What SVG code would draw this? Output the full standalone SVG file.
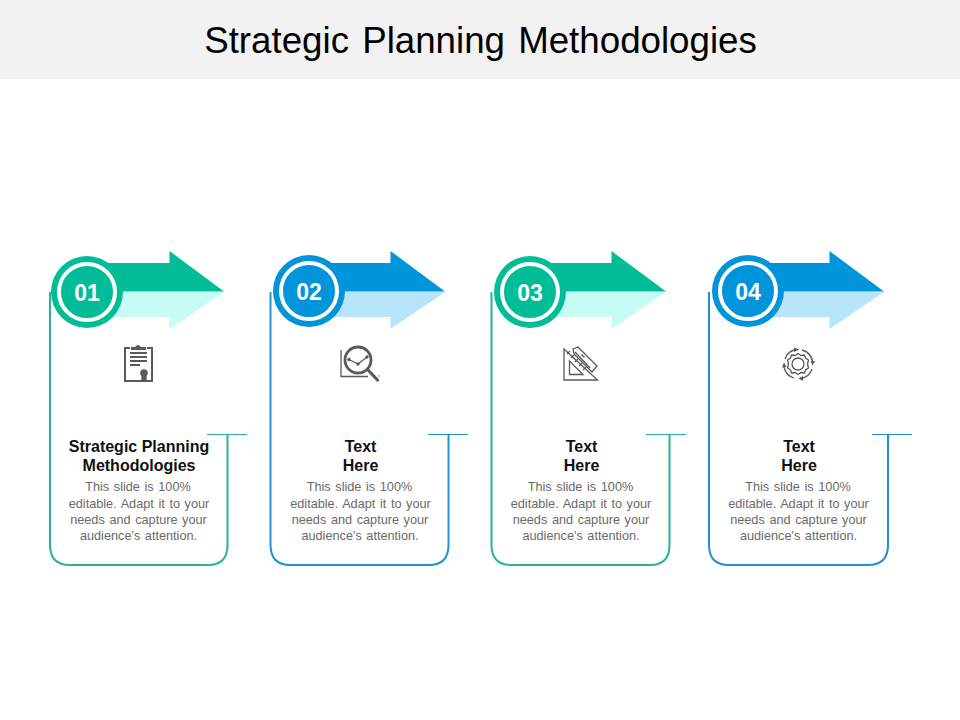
<svg xmlns="http://www.w3.org/2000/svg" width="960" height="720" viewBox="0 0 960 720">
<style>
text{font-family:"Liberation Sans",Arial,sans-serif;text-anchor:middle}
.title{font-size:36.7px;fill:#000;word-spacing:3px}
.head{font-size:16px;font-weight:700;fill:#111}
.body{font-size:12.7px;fill:#6a6a6a;word-spacing:1.1px}
.num{font-size:23px;font-weight:700;fill:#fff}
.card{fill:none;stroke-width:2}
.tick{fill:none;stroke-width:1.1}
.ring{fill:none;stroke:#fff;stroke-width:4}
.g .dark{fill:#00bd98}.g .light{fill:#c6fcf3}.g .card,.g .tick{stroke:#2bb39a}
.b .dark{fill:#0094da}.b .light{fill:#b7e5fc}.b .card,.b .tick{stroke:#1f93cc}
.ic{fill:none;stroke:#5a5a5a;stroke-width:2}
.icf{fill:#5a5a5a}
.thin{fill:none;stroke:#5a5a5a;stroke-width:1.3}
</style>
<rect x="0" y="0" width="960" height="79" fill="#f2f2f2"/>
<text class="title" x="480.500" y="53">Strategic Planning Methodologies</text>

<g id="node-01" class="g">
<path class="card" d="M50 292V545Q50 565 70 565H208Q227.500 565 227.500 545V434"/>
<path class="tick" d="M207 434.500H247"/>
<path class="light" d="M90 292H224L169.500 329V317H90Z"/>
<path class="dark" d="M90 263H169.500V251L224 291.500H90Z"/>
<circle class="dark" cx="87" cy="292" r="36"/>
<circle class="ring" cx="87" cy="292" r="28"/>
<text class="num" x="87" y="301">01</text>
<g>
<path class="ic" d="M130 348H125V381H152V348H147"/>
<path class="icf" d="M131 350V347H135Q138 343 141 347H146V350Z"/>
<path class="ic" d="M130 353H147M130 357H147M130 361H147M130 365H140"/>
<circle class="icf" cx="144" cy="373" r="3.800"/>
<path class="icf" d="M141.500 376H146.500L147 382L144 380L141 382Z"/>
</g>
<text class="head"><tspan x="139" y="452">Strategic Planning</tspan><tspan x="139" y="471">Methodologies</tspan></text>
<text class="body"><tspan x="138" y="491">This slide is 100%</tspan><tspan x="139" y="507.500">editable. Adapt it to your</tspan><tspan x="138.500" y="523.500">needs and capture your</tspan><tspan x="138.500" y="539.500">audience's attention.</tspan></text>
</g>

<g id="node-02" class="b">
<path class="card" d="M270.500 292V545Q270.500 565 290.500 565H429Q448.500 565 448.500 545V434"/>
<path class="tick" d="M428 434.500H468"/>
<path class="light" d="M311 292H445L390.500 329V317H311Z"/>
<path class="dark" d="M311 263H390.500V251L445 291.500H311Z"/>
<circle class="dark" cx="309" cy="291" r="36"/>
<circle class="ring" cx="309" cy="291" r="28"/>
<text class="num" x="309" y="299.500">02</text>
<g>
<path class="thin" d="M341 350V376.500H368"/>
<circle cx="358" cy="360" r="13" fill="none" stroke="#5a5a5a" stroke-width="2.800"/>
<path fill="none" stroke="#5a5a5a" stroke-width="3.200" stroke-linecap="round" d="M368 370L377.500 380"/>
<path class="thin" d="M349 359.500L358 364L367 357"/>
<circle class="icf" cx="349" cy="359.500" r="1.700"/><circle class="icf" cx="358" cy="364" r="1.700"/><circle class="icf" cx="367" cy="357" r="1.700"/>
<circle class="icf" cx="379" cy="376" r="0.700"/>
</g>
<text class="head"><tspan x="360.500" y="452">Text</tspan><tspan x="360.500" y="471">Here</tspan></text>
<text class="body"><tspan x="359.500" y="491">This slide is 100%</tspan><tspan x="360.500" y="507.500">editable. Adapt it to your</tspan><tspan x="360" y="523.500">needs and capture your</tspan><tspan x="360" y="539.500">audience's attention.</tspan></text>
</g>

<g id="node-03" class="g">
<path class="card" d="M491.500 292V545Q491.500 565 511.500 565H650Q669.500 565 669.500 545V434"/>
<path class="tick" d="M646 434.500H686"/>
<path class="light" d="M532 292H666L611.500 329V317H532Z"/>
<path class="dark" d="M532 263H611.500V251L666 291.500H532Z"/>
<circle class="dark" cx="530" cy="292" r="36"/>
<circle class="ring" cx="530" cy="292" r="28"/>
<text class="num" x="530" y="301">03</text>
<g>
<path class="thin" d="M564 349V380H597.500Z"/>
<path class="thin" d="M569.500 361V374.500H583Z"/>
<path class="thin" d="M573 349L578 347L597 366L592 372L574 354Z"/>
<path class="thin" d="M575 352L590 368M567 354L570 351M571 358L574 355M575 362L578 359M579 366L582 363M583 370L586 367"/>
<path class="icf" d="M582 354L585 357L584 358L581 355Z"/>
</g>
<text class="head"><tspan x="581.500" y="452">Text</tspan><tspan x="581.500" y="471">Here</tspan></text>
<text class="body"><tspan x="580.500" y="491">This slide is 100%</tspan><tspan x="581" y="507.500">editable. Adapt it to your</tspan><tspan x="581" y="523.500">needs and capture your</tspan><tspan x="581" y="539.500">audience's attention.</tspan></text>
</g>

<g id="node-04" class="b">
<path class="card" d="M709 292V545Q709 565 729 565H868Q888 565 888 545V434"/>
<path class="tick" d="M872 434.500H912"/>
<path class="light" d="M750 292H884L829.500 329V317H750Z"/>
<path class="dark" d="M750 263H829.500V251L884 291.500H750Z"/>
<circle class="dark" cx="748" cy="291" r="36"/>
<circle class="ring" cx="748" cy="291" r="28"/>
<text class="num" x="748" y="299.500">04</text>
<g>
<circle class="thin" cx="798" cy="364" r="6"/>
<path class="thin" d="M798 353.500L801 355.500L804.500 355L805.500 358L808.500 360L807.500 364L808.500 368L805.500 370L804.500 373L801 372.500L798 374.500L795 372.500L791.500 373L790.500 370L787.500 368L788.500 364L787.500 360L790.500 358L791.500 355L795 355.500Z"/>
<path class="thin" d="M785 359A14.500 14.500 0 0 1 796 349.500M802 350A14.500 14.500 0 0 1 812.500 361M812 369A14.500 14.500 0 0 1 801 378.500M794 378A14.500 14.500 0 0 1 784 367"/>
<path class="icf" d="M794 347.500L799 349.500L794 352ZM810.500 361L815 361L812.500 365.500ZM803 376L803 381L798.500 378.500ZM782 367.500L786.500 367L784 362.500Z"/>
</g>
<text class="head"><tspan x="799" y="452">Text</tspan><tspan x="799" y="471">Here</tspan></text>
<text class="body"><tspan x="798" y="491">This slide is 100%</tspan><tspan x="798.500" y="507.500">editable. Adapt it to your</tspan><tspan x="798.500" y="523.500">needs and capture your</tspan><tspan x="798.500" y="539.500">audience's attention.</tspan></text>
</g>
</svg>
